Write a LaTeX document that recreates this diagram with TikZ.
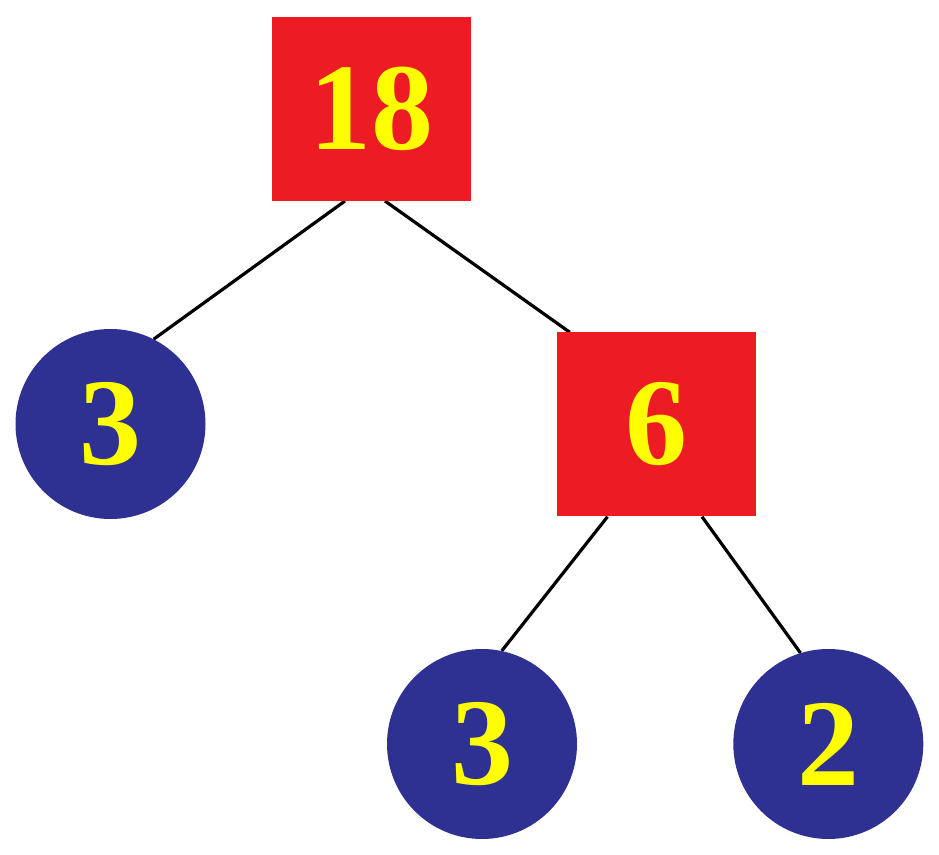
\documentclass[tikz,border=0pt]{standalone}
\usepackage{fontspec}
\setmainfont{Liberation Serif}
\usetikzlibrary{backgrounds}
\definecolor{boxred}{HTML}{ED1C24}
\definecolor{ballblue}{HTML}{2E3192}
\definecolor{numyellow}{HTML}{FFFF00}
\tikzset{
  numtext/.style={text=numyellow, font=\fontsize{124}{124}\selectfont\bfseries, inner sep=0pt},
  sqbox/.style={numtext, rectangle, fill=boxred, minimum width=199pt, minimum height=184pt},
  ball/.style={numtext, circle, fill=ballblue, minimum size=190pt},
  edge/.style={draw=black, line width=3.2pt}
}
\begin{document}
\begin{tikzpicture}[x=1pt,y=1pt]
\useasboundingbox (0,0) rectangle (939,854);
\node[sqbox] (n18) at (371.5,745.2) {18};
\node[ball]  (c1)  at (110.5,430) {3};
\node[sqbox] (n6)  at (656.5,429.5) {6};
\node[ball]  (c2)  at (482,110) {3};
\node[ball]  (c3)  at (828.3,110) {2};
\begin{scope}[on background layer]
\draw[edge] ([xshift=-26.5pt]n18.south) -- (c1.63.7);
\draw[edge] ([xshift=13.5pt]n18.south) -- ([xshift=13pt]n6.north west);
\draw[edge] ([xshift=-49pt]n6.south) -- (c2.78);
\draw[edge] ([xshift=45.5pt]n6.south) -- (c3.107);
\end{scope}
\end{tikzpicture}
\end{document}
